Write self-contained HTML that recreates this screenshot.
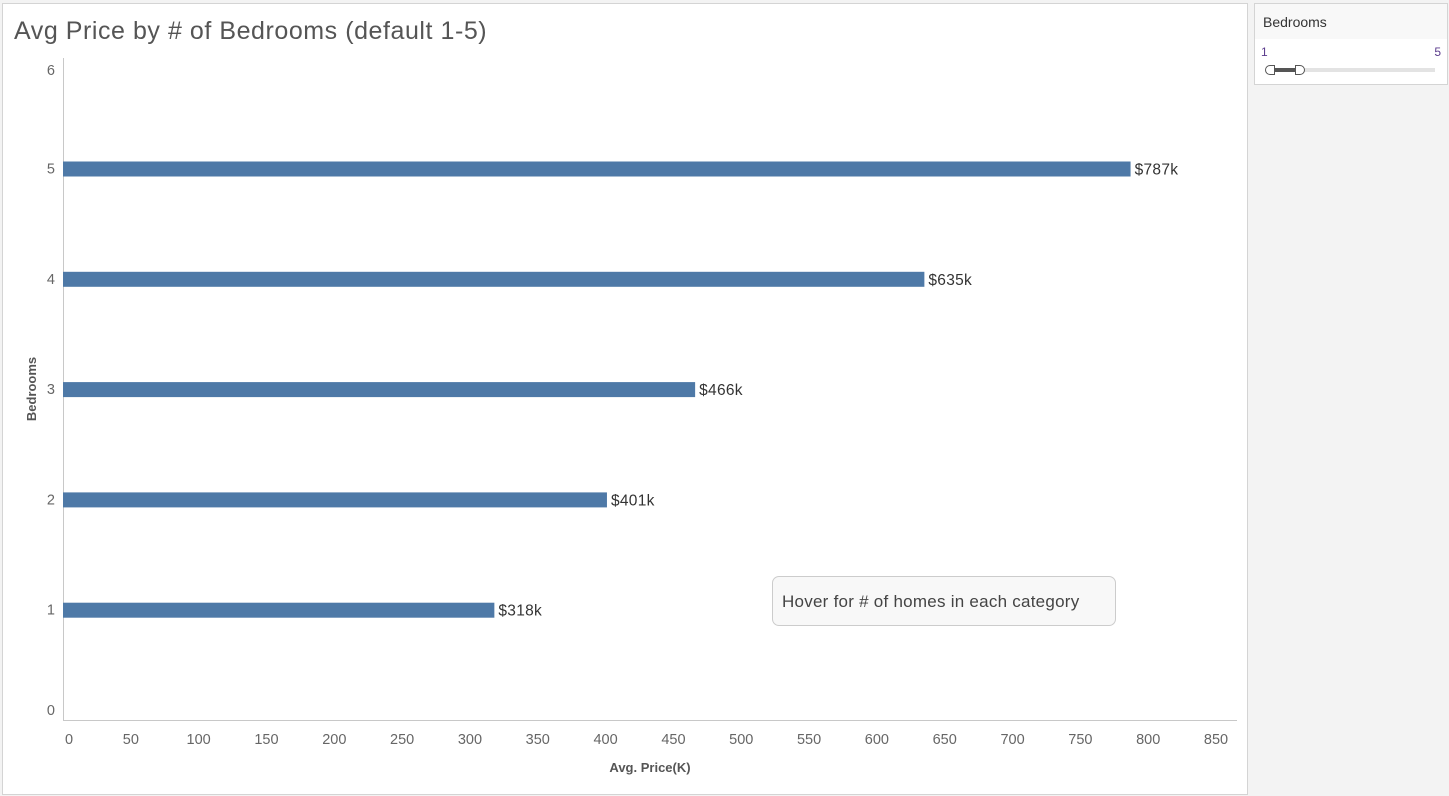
<!DOCTYPE html>
<html><head><meta charset="utf-8"><style>
body{margin:0;width:1449px;height:796px;background:#f3f3f3;font-family:"Liberation Sans",sans-serif;overflow:hidden;position:relative}
#panel{position:absolute;left:2px;top:3px;width:1244px;height:790px;background:#fff;border:1px solid #d4d4d4}
#title{position:absolute;left:14px;top:17px;font-size:25px;color:#555;font-weight:normal;margin:0;letter-spacing:0.55px}
#filter{position:absolute;left:1254px;top:3px;width:192px;height:80px;background:#fff;border:1px solid #d4d4d4}
#ft{height:35px;background:#f8f8f8;font-size:14px;color:#333;padding-left:8px;line-height:36px}
#note{position:absolute;left:772px;top:576px;border:1px solid #ccc;border-radius:7px;background:#f8f8f8;font-size:17px;letter-spacing:0.25px;color:#444;line-height:49px;padding-left:9px;box-sizing:border-box;width:344px;height:50px}
svg{position:absolute;left:0;top:0}
</style></head><body>
<div id="panel"></div>
<h1 id="title">Avg Price by # of Bedrooms (default 1-5)</h1>
<div id="filter">
<div id="ft">Bedrooms</div>
<div style="position:absolute;left:6px;top:41px;font-size:12px;color:#5b3b8c">1</div>
<div style="position:absolute;right:6px;top:41px;font-size:12px;color:#5b3b8c">5</div>
<div style="position:absolute;left:14px;top:64px;width:166px;height:4px;background:#e3e3e3"></div>
<div style="position:absolute;left:14px;top:64px;width:30px;height:4px;background:#555"></div>
<div style="position:absolute;left:10px;top:61px;width:8px;height:8px;border:1px solid #555;border-radius:5px 0 0 5px;background:#fff"></div>
<div style="position:absolute;left:40px;top:61px;width:8px;height:8px;border:1px solid #555;border-radius:0 5px 5px 0;background:#fff"></div>
</div>
<svg id="chart" width="1449" height="796"></svg>
<div id="note">Hover for # of homes in each category</div>
<script>
const categories=[1,2,3,4,5];
const values=[318,401,466,635,787];
const labels=["$318k","$401k","$466k","$635k","$787k"];
const xTicks=[0,50,100,150,200,250,300,350,400,450,500,550,600,650,700,750,800,850];
const yTicks=[0,1,2,3,4,5,6];
const X=v=>63+v*1.3565, Y=v=>720-v*110.3;
const svg=document.getElementById('chart'),NS='http://www.w3.org/2000/svg';
function mk(t,a,txt){const e=document.createElementNS(NS,t);for(const k in a)e.setAttribute(k,a[k]);if(txt!=null)e.textContent=txt;svg.appendChild(e);return e;}
let e;
e=mk('line',{x1:63.5,y1:58,x2:63.5,y2:720,stroke:'#c8c8c8'});


e=mk('line',{x1:63,y1:720.5,x2:1237,y2:720.5,stroke:'#c8c8c8'});


xTicks.forEach((t,i)=>{let x=X(t);if(i==0)x+=6;
e=mk('text',{x:x,y:744,'text-anchor':'middle','font-size':14.5,fill:'#666'},t);

});
yTicks.forEach(t=>{let y=Y(t)+5;if(t==0)y-=10;if(t==6)y+=12;
e=mk('text',{x:55,y:y,'text-anchor':'end','font-size':14.5,fill:'#666'},t);

});
categories.forEach((c,i)=>{
e=mk('rect',{x:X(0),y:Y(c)-7,width:X(values[i])-X(0),height:15,fill:'#4e79a7'});


e=mk('text',{x:X(values[i])+4,y:Y(c)+6,'font-size':15.5,fill:'#333','letter-spacing':'0.3'},labels[i]);

});
e=mk('text',{x:650,y:772,'text-anchor':'middle','font-size':13,'font-weight':'bold',fill:'#555'},'Avg. Price(K)');


e=mk('text',{x:36,y:389,'text-anchor':'middle','font-size':13,'font-weight':'bold',fill:'#555',transform:'rotate(-90 36 389)'},'Bedrooms');


</script>
</body></html>
